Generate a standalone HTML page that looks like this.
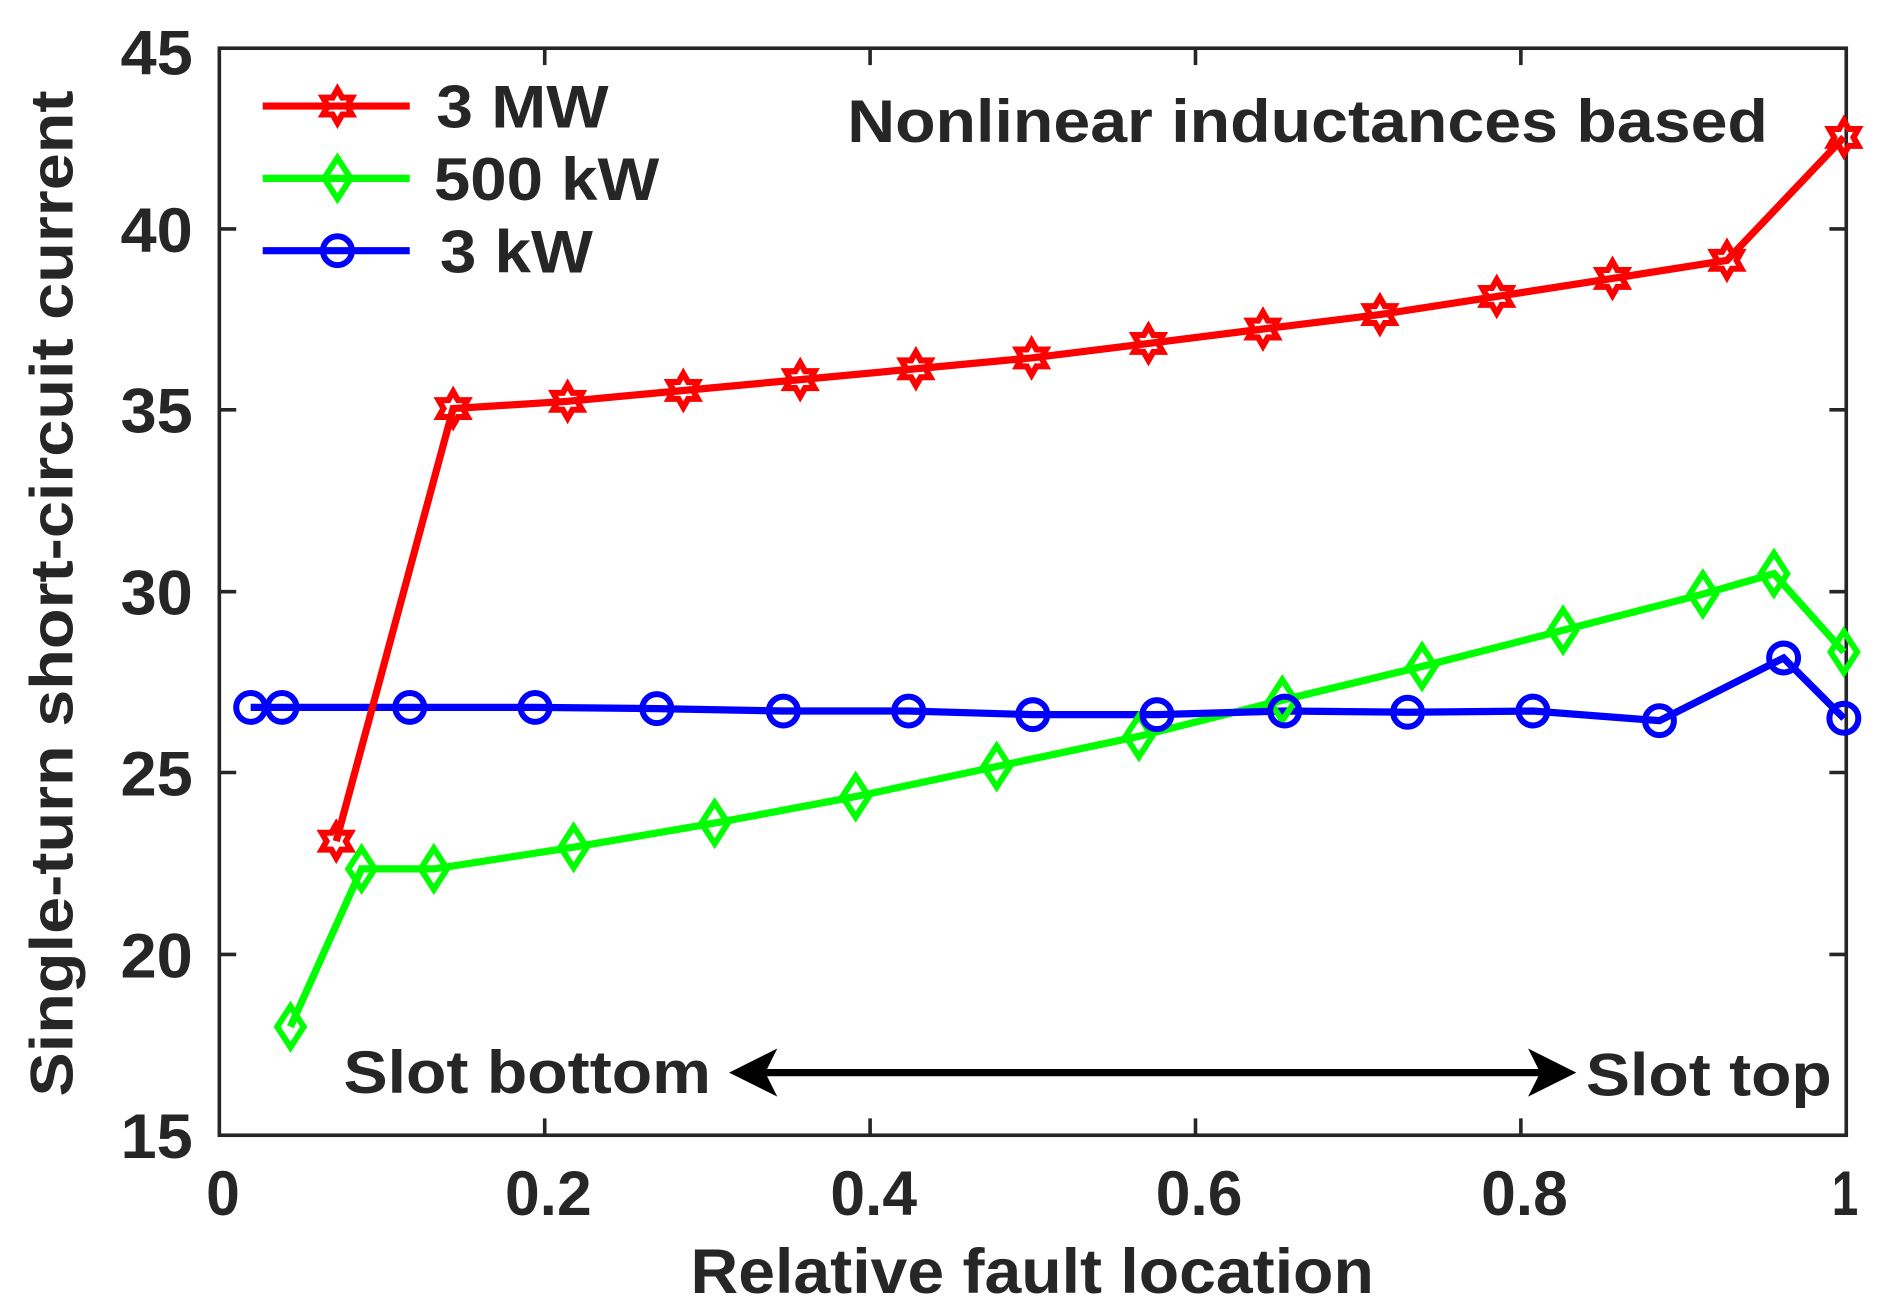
<!DOCTYPE html>
<html><head><style>html,body{margin:0;padding:0;background:#fff}svg{display:block}</style></head><body>
<svg width="1880" height="1310" viewBox="0 0 1560 1087" xmlns="http://www.w3.org/2000/svg" font-family="Liberation Sans, Arial, sans-serif" font-weight="bold" fill="#262626">
<defs>
<polygon id="st" points="0,-14 4,-7 12,-7 8,0 12,7 4,7 0,14 -4,7 -12,7 -8,0 -12,-7 -4,-7" fill="none" stroke="#ff0000" stroke-width="5"/>
<polygon id="dm" points="0,-17 11,0 0,17 -11,0" fill="none" stroke="#00ff00" stroke-width="5"/>
<circle id="ci" r="12" fill="none" stroke="#0000ff" stroke-width="5"/>
</defs>
<rect x="182" y="40" width="1350" height="902" fill="none" stroke="#262626" stroke-width="3"/>
<g stroke="#262626" stroke-width="3">
<line x1="452" y1="942" x2="452" y2="928"/><line x1="722" y1="942" x2="722" y2="928"/><line x1="992" y1="942" x2="992" y2="928"/><line x1="1262" y1="942" x2="1262" y2="928"/>
<line x1="452" y1="40" x2="452" y2="54"/><line x1="722" y1="40" x2="722" y2="54"/><line x1="992" y1="40" x2="992" y2="54"/><line x1="1262" y1="40" x2="1262" y2="54"/>
<line x1="182" y1="190" x2="196" y2="190"/><line x1="182" y1="340" x2="196" y2="340"/><line x1="182" y1="491" x2="196" y2="491"/><line x1="182" y1="641" x2="196" y2="641"/><line x1="182" y1="792" x2="196" y2="792"/>
<line x1="1532" y1="190" x2="1518" y2="190"/><line x1="1532" y1="340" x2="1518" y2="340"/><line x1="1532" y1="491" x2="1518" y2="491"/><line x1="1532" y1="641" x2="1518" y2="641"/><line x1="1532" y1="792" x2="1518" y2="792"/>
</g>
<g font-size="52">
<text x="100" y="62" textLength="60" lengthAdjust="spacingAndGlyphs">45</text>
<text x="100" y="209" textLength="60" lengthAdjust="spacingAndGlyphs">40</text>
<text x="100" y="359" textLength="60" lengthAdjust="spacingAndGlyphs">35</text>
<text x="100" y="510" textLength="60" lengthAdjust="spacingAndGlyphs">30</text>
<text x="100" y="660" textLength="60" lengthAdjust="spacingAndGlyphs">25</text>
<text x="100" y="811" textLength="60" lengthAdjust="spacingAndGlyphs">20</text>
<text x="100" y="961" textLength="60" lengthAdjust="spacingAndGlyphs">15</text>
<text x="171" y="1008" textLength="28" lengthAdjust="spacingAndGlyphs">0</text>
<text x="419" y="1008" textLength="72" lengthAdjust="spacingAndGlyphs">0.2</text>
<text x="689" y="1008" textLength="72" lengthAdjust="spacingAndGlyphs">0.4</text>
<text x="959" y="1008" textLength="72" lengthAdjust="spacingAndGlyphs">0.6</text>
<text x="1229" y="1008" textLength="72" lengthAdjust="spacingAndGlyphs">0.8</text>
<text x="1520" y="1008" textLength="22" lengthAdjust="spacingAndGlyphs">1</text>
</g>
<text x="573" y="1073" font-size="52" textLength="567" lengthAdjust="spacingAndGlyphs">Relative fault location</text>
<text transform="translate(60,910) rotate(-90)" font-size="50" textLength="835" lengthAdjust="spacingAndGlyphs">Single-turn short-circuit current</text>
<polyline fill="none" stroke="#00ff00" stroke-width="6" points="241,852 300,721 360,721 476,703 593,683 710,661 827,636 945,611 1064,581 1180,553 1297,523 1413,493 1472,476 1530,541"/>
<polyline fill="none" stroke="#0000ff" stroke-width="6" points="208,587 234,587 340,587 444,587 545,588 650,590 754,590 857,593 960,593 1066,590 1168,591 1272,590 1377,598 1480,546 1530,596"/>
<polyline fill="none" stroke="#ff0000" stroke-width="6" points="279,698 376,339 471,333 567,324 664,315 760,306 856,297 953,285 1048,273 1145,261 1242,246 1338,231 1433,216 1530,114"/>
<g>
<use href="#dm" x="241" y="852"/><use href="#dm" x="300" y="721"/><use href="#dm" x="360" y="721"/><use href="#dm" x="476" y="703"/><use href="#dm" x="593" y="683"/><use href="#dm" x="710" y="661"/><use href="#dm" x="827" y="636"/><use href="#dm" x="945" y="611"/><use href="#dm" x="1064" y="581"/><use href="#dm" x="1180" y="553"/><use href="#dm" x="1297" y="523"/><use href="#dm" x="1413" y="493"/><use href="#dm" x="1472" y="476"/><use href="#dm" x="1530" y="541"/>
<use href="#ci" x="208" y="587"/><use href="#ci" x="234" y="587"/><use href="#ci" x="340" y="587"/><use href="#ci" x="444" y="587"/><use href="#ci" x="545" y="588"/><use href="#ci" x="650" y="590"/><use href="#ci" x="754" y="590"/><use href="#ci" x="857" y="593"/><use href="#ci" x="960" y="593"/><use href="#ci" x="1066" y="590"/><use href="#ci" x="1168" y="591"/><use href="#ci" x="1272" y="590"/><use href="#ci" x="1377" y="598"/><use href="#ci" x="1480" y="546"/><use href="#ci" x="1530" y="596"/>
<use href="#st" x="279" y="698"/><use href="#st" x="376" y="339"/><use href="#st" x="471" y="333"/><use href="#st" x="567" y="324"/><use href="#st" x="664" y="315"/><use href="#st" x="760" y="306"/><use href="#st" x="856" y="297"/><use href="#st" x="953" y="285"/><use href="#st" x="1048" y="273"/><use href="#st" x="1145" y="261"/><use href="#st" x="1242" y="246"/><use href="#st" x="1338" y="231"/><use href="#st" x="1433" y="216"/><use href="#st" x="1530" y="114"/>
</g>
<line x1="218" y1="88" x2="340" y2="88" stroke="#ff0000" stroke-width="6"/><use href="#st" x="280" y="88"/>
<line x1="218" y1="148" x2="340" y2="148" stroke="#00ff00" stroke-width="6"/><use href="#dm" x="280" y="148"/>
<line x1="218" y1="208" x2="340" y2="208" stroke="#0000ff" stroke-width="6"/><use href="#ci" x="280" y="208"/>
<g font-size="50">
<text x="362" y="106" textLength="143" lengthAdjust="spacingAndGlyphs">3 MW</text>
<text x="360" y="166" textLength="187" lengthAdjust="spacingAndGlyphs">500 kW</text>
<text x="365" y="226" textLength="127" lengthAdjust="spacingAndGlyphs">3 kW</text>
<text x="703" y="118" textLength="764" lengthAdjust="spacingAndGlyphs">Nonlinear inductances based</text>
<text x="285" y="907" textLength="305" lengthAdjust="spacingAndGlyphs">Slot bottom</text>
<text x="1316" y="909" textLength="204" lengthAdjust="spacingAndGlyphs">Slot top</text>
</g>
<line x1="630" y1="890" x2="1285" y2="890" stroke="#000" stroke-width="6"/>
<polygon points="605,890 645,870 635,890 645,910" fill="#000"/>
<polygon points="1308,890 1268,870 1278,890 1268,910" fill="#000"/>
</svg>
</body></html>
